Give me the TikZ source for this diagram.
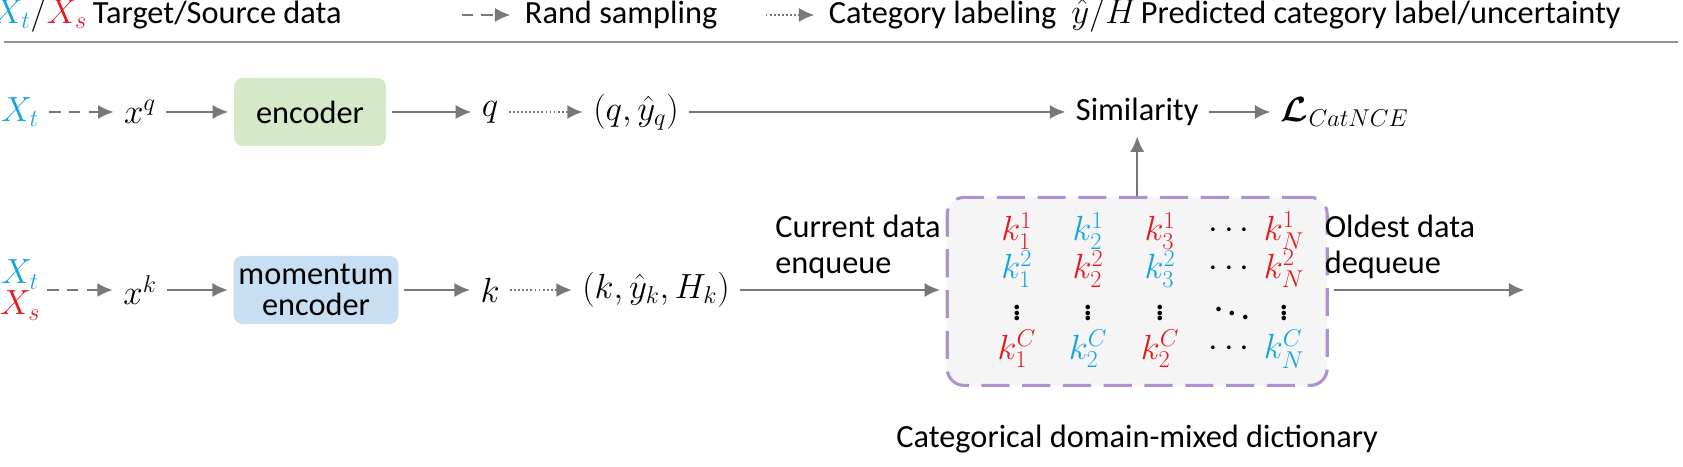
\documentclass[tikz,border=0pt]{standalone}
\usepackage{amsmath}
\usepackage{bm}
\usepackage{fontspec}
\setmainfont{Carlito}
\usetikzlibrary{positioning}
\usetikzlibrary{arrows.meta}
\definecolor{tgt}{RGB}{20,165,225}
\definecolor{src}{RGB}{230,25,30}
\definecolor{encg}{RGB}{213,232,200}
\definecolor{encb}{RGB}{200,222,242}
\definecolor{dictp}{RGB}{175,145,205}
\definecolor{arr}{RGB}{120,120,120}
\tikzset{
  every node/.style={font=\fontsize{23}{26}\selectfont},
  flow/.style={arr, line width=1.4pt, -{Latex[length=11pt,width=10pt]}, shorten >=4pt, shorten <=4pt},
  rand/.style={flow, dash pattern=on 8pt off 6pt},
  lab/.style={flow, dash pattern=on 1.3pt off 1.6pt},
  enc/.style={rounded corners=6pt, minimum width=3.8cm, minimum height=1.7cm, align=center},
  key/.style={font=\fontsize{27}{30}\selectfont},
}
\begin{document}
\begin{tikzpicture}
\useasboundingbox (0,0) rectangle (42.075,11.675);

% legend
\node (lx) at (1.0,11.3) {$\color{tgt}X_t\color{black}/\color{src}X_s$};
\node[right] (lxt) at (2.2,11.3) {Target/Source data};
\coordinate (ra) at (11.4,11.3); \coordinate (rb) at (12.9,11.3);
\draw[rand] (ra) -- (rb);
\node[right] (rt) at (13.0,11.3) {Rand sampling};
\coordinate (ca) at (19.0,11.3); \coordinate (cb) at (20.5,11.3);
\draw[lab] (ca) -- (cb);
\node[right] (ct) at (20.6,11.3) {Category labeling};
\node (ly) at (27.6,11.3) {$\hat{y}/H$};
\node[right] (lyt) at (28.4,11.3) {Predicted category label/uncertainty};
\coordinate (sa) at (0.1,10.625); \coordinate (sb) at (41.95,10.625);
\draw[arr!80, line width=1.6pt] (sa) -- (sb);

% query branch
\node (xt) at (0.5,8.875) {$\color{tgt}X_t$};
\node (xq) at (3.5,8.875) {$x^q$};
\node[enc, fill=encg] (encq) at (7.75,8.875) {encoder};
\node (q) at (12.25,8.875) {$q$};
\node (qy) at (15.9,8.875) {$(q,\hat{y}_q)$};
\node (sim) at (28.43,8.875) {Similarity};
\node[right] (loss) at (31.9,8.875) {$\bm{\mathcal{L}}_{CatNCE}$};
\draw[rand] (xt) -- (xq);
\draw[flow] (xq) -- (encq);
\draw[flow] (encq) -- (q);
\draw[lab] (q) -- (qy);
\draw[flow] (qy) -- (sim);
\draw[flow] (sim) -- (loss);

% key branch
\node[align=center, inner sep=1pt] (xs) at (0.5,4.425) {$\color{tgt}X_t$\\[-4pt]$\color{src}X_s$};
\node (xk) at (3.5,4.425) {$x^k$};
\node[enc, fill=encb, minimum width=4.05cm] (enck) at (7.9,4.425) {momentum\\[-4pt]encoder};
\node (k) at (12.25,4.425) {$k$};
\node (ky) at (16.4,4.425) {$(k,\hat{y}_k,H_k)$};
\draw[rand] (xs) -- (xk);
\draw[flow] (xk) -- (enck);
\draw[flow] (enck) -- (k);
\draw[lab] (k) -- (ky);

% dictionary
\node[draw=dictp, fill=black!4, line width=2.2pt, dash pattern=on 20pt off 9pt,
  rounded corners=12pt, minimum width=9.5cm, minimum height=4.7cm] (dict) at (28.43,4.39) {};
\node[key, src] at (25.42,5.9) {$k_1^1$};
\node[key, tgt] at (27.2,5.9) {$k_2^1$};
\node[key, src] at (29.0,5.9) {$k_3^1$};
\node[key] at (30.8,5.9) {$\cdots$};
\node[key, src] at (32.1,5.9) {$k_N^1$};
\node[key, tgt] at (25.42,4.95) {$k_1^2$};
\node[key, src] at (27.2,4.95) {$k_2^2$};
\node[key, tgt] at (29.0,4.95) {$k_3^2$};
\node[key] at (30.8,4.95) {$\cdots$};
\node[key, src] at (32.1,4.95) {$k_N^2$};
\foreach \x in {25.42,27.2,29.0,32.1} \node[key] at (\x,3.95) {$\vdots$};
\node[key] at (30.8,3.95) {$\ddots$};
\node[key, src] at (25.42,2.95) {$k_1^C$};
\node[key, tgt] at (27.2,2.95) {$k_2^C$};
\node[key, src] at (29.0,2.95) {$k_2^C$};
\node[key] at (30.8,2.95) {$\cdots$};
\node[key, tgt] at (32.1,2.95) {$k_N^C$};
\node (cap) at (28.43,0.7) {Categorical domain-mixed dictionary};

\node[align=left] (enq) at (21.45,5.5) {Current data\\enqueue};
\node[align=left] (deq) at (35.0,5.5) {Oldest data\\dequeue};
\coordinate (out) at (38.25,4.425);
\draw[flow] (ky) -- (ky -| dict.west);
\draw[flow, shorten <=0pt] (dict.north) -- (sim);
\draw[flow] (dict.east |- out) -- (out);
\end{tikzpicture}
\end{document}
